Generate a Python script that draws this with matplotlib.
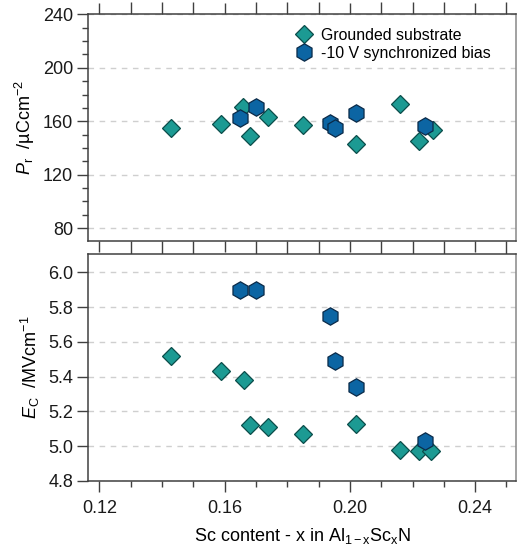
import matplotlib
matplotlib.use("Agg")
import matplotlib.pyplot as plt
from matplotlib.ticker import MultipleLocator

plt.rcParams['font.family'] = ['Liberation Sans', 'DejaVu Sans']
plt.rcParams['mathtext.fontset'] = 'custom'
plt.rcParams['mathtext.rm'] = 'Liberation Sans'
plt.rcParams['mathtext.it'] = 'Liberation Sans:italic'

# Grounded substrate (diamonds)
x_ground = [0.1428, 0.1588, 0.1658, 0.1681, 0.1738, 0.1849, 0.2020, 0.2161, 0.2221, 0.2264]
pr_ground = [154.6, 157.8, 170.3, 149.1, 163.3, 156.9, 142.8, 172.6, 145.3, 153.3]
x_ground_ec = [0.1428, 0.1588, 0.1662, 0.1681, 0.1738, 0.1849, 0.2020, 0.2161, 0.2221, 0.2260]
ec_ground = [5.52, 5.43, 5.38, 5.12, 5.11, 5.07, 5.13, 4.98, 4.97, 4.97]

# -10 V synchronized bias (hexagons)
x_bias = [0.1650, 0.1700, 0.1937, 0.1951, 0.2020, 0.2241]
pr_bias = [162.1, 170.3, 158.8, 155.1, 165.8, 156.6]
ec_bias = [5.90, 5.90, 5.75, 5.49, 5.34, 5.03]

label_ground = "Grounded substrate"
label_bias = "-10 V synchronized bias"

c_g_face, c_g_edge = '#1c9a93', '#0b4d4a'
c_b_face, c_b_edge = '#0c65a3', '#0a2a48'
spine_c = '#404040'

fig = plt.figure(figsize=(5.2, 5.5), dpi=100)
ax1 = fig.add_axes([0.170, 0.562, 0.822, 0.412])
ax2 = fig.add_axes([0.170, 0.1255, 0.822, 0.4125])

for ax in (ax1, ax2):
    for s in ax.spines.values():
        s.set_color(spine_c)
        s.set_linewidth(1.1)
    ax.spines['right'].set_color('#888888')
    ax.set_xlim(0.1165, 0.253)
    ax.xaxis.set_major_locator(MultipleLocator(0.04))
    ax.xaxis.set_minor_locator(MultipleLocator(0.01))
    ax.tick_params(axis='both', which='both', direction='out', colors=spine_c,
                   labelcolor='#1a1a1a', labelsize=13, width=1.0)
    ax.tick_params(axis='both', which='major', length=8, pad=3)
    ax.tick_params(axis='both', which='minor', length=4.5)
    ax.grid(axis='y', which='major', linestyle=(0, (4, 4)), color='#cfcfcf', linewidth=1.0)
    ax.set_axisbelow(True)

# Top panel
ax1.plot(x_ground, pr_ground, linestyle='none', marker='D', ms=9.5,
         mfc=c_g_face, mec=c_g_edge, mew=0.9, label=label_ground, zorder=3)
ax1.plot(x_bias, pr_bias, linestyle='none', marker='h', ms=12.5,
         mfc=c_b_face, mec=c_b_edge, mew=0.9, label=label_bias, zorder=4)
ax1.set_ylim(70.5, 240)
ax1.yaxis.set_major_locator(MultipleLocator(40))
ax1.yaxis.set_minor_locator(MultipleLocator(10))
ax1.tick_params(axis='x', which='both', top=True, bottom=True, labelbottom=False)
ax1.tick_params(axis='x', which='both', bottom=True, length=9)
ax1.xaxis.set_tick_params(which='major', top=True, length=8)
ax1.set_ylabel(r'$\mathit{P}_{\mathrm{r}}$  /µCcm$^{\mathrm{-2}}$', fontsize=13, labelpad=4)
leg = ax1.legend(loc='upper left', bbox_to_anchor=(0.45, 1.0), frameon=False,
                 fontsize=11.4, handlelength=1.2, handletextpad=0.5, labelspacing=0.2,
                 borderpad=0.35)

# Bottom panel
ax2.plot(x_ground_ec, ec_ground, linestyle='none', marker='D', ms=9.5,
         mfc=c_g_face, mec=c_g_edge, mew=0.9, zorder=3)
ax2.plot(x_bias, ec_bias, linestyle='none', marker='h', ms=12.5,
         mfc=c_b_face, mec=c_b_edge, mew=0.9, zorder=4)
ax2.set_ylim(4.8, 6.105)
ax2.yaxis.set_major_locator(MultipleLocator(0.2))
ax2.yaxis.set_major_formatter(matplotlib.ticker.FormatStrFormatter('%.1f'))
ax2.tick_params(axis='y', which='minor', left=False)
ax2.tick_params(axis='x', which='major', pad=6)
ax2.set_ylabel(r'$\mathit{E}_{\mathrm{C}}$  /MVcm$^{\mathrm{-1}}$', fontsize=13, labelpad=4)
ax2.set_xticks([0.12, 0.16, 0.20, 0.24])
ax2.set_xticklabels(['0.12', '0.16', '0.20', '0.24'])
ax2.set_xlabel(r'Sc content - x in Al$_{\mathrm{1-x}}$Sc$_{\mathrm{x}}$N', fontsize=13, labelpad=6)

fig.savefig('out.png', dpi=100)
